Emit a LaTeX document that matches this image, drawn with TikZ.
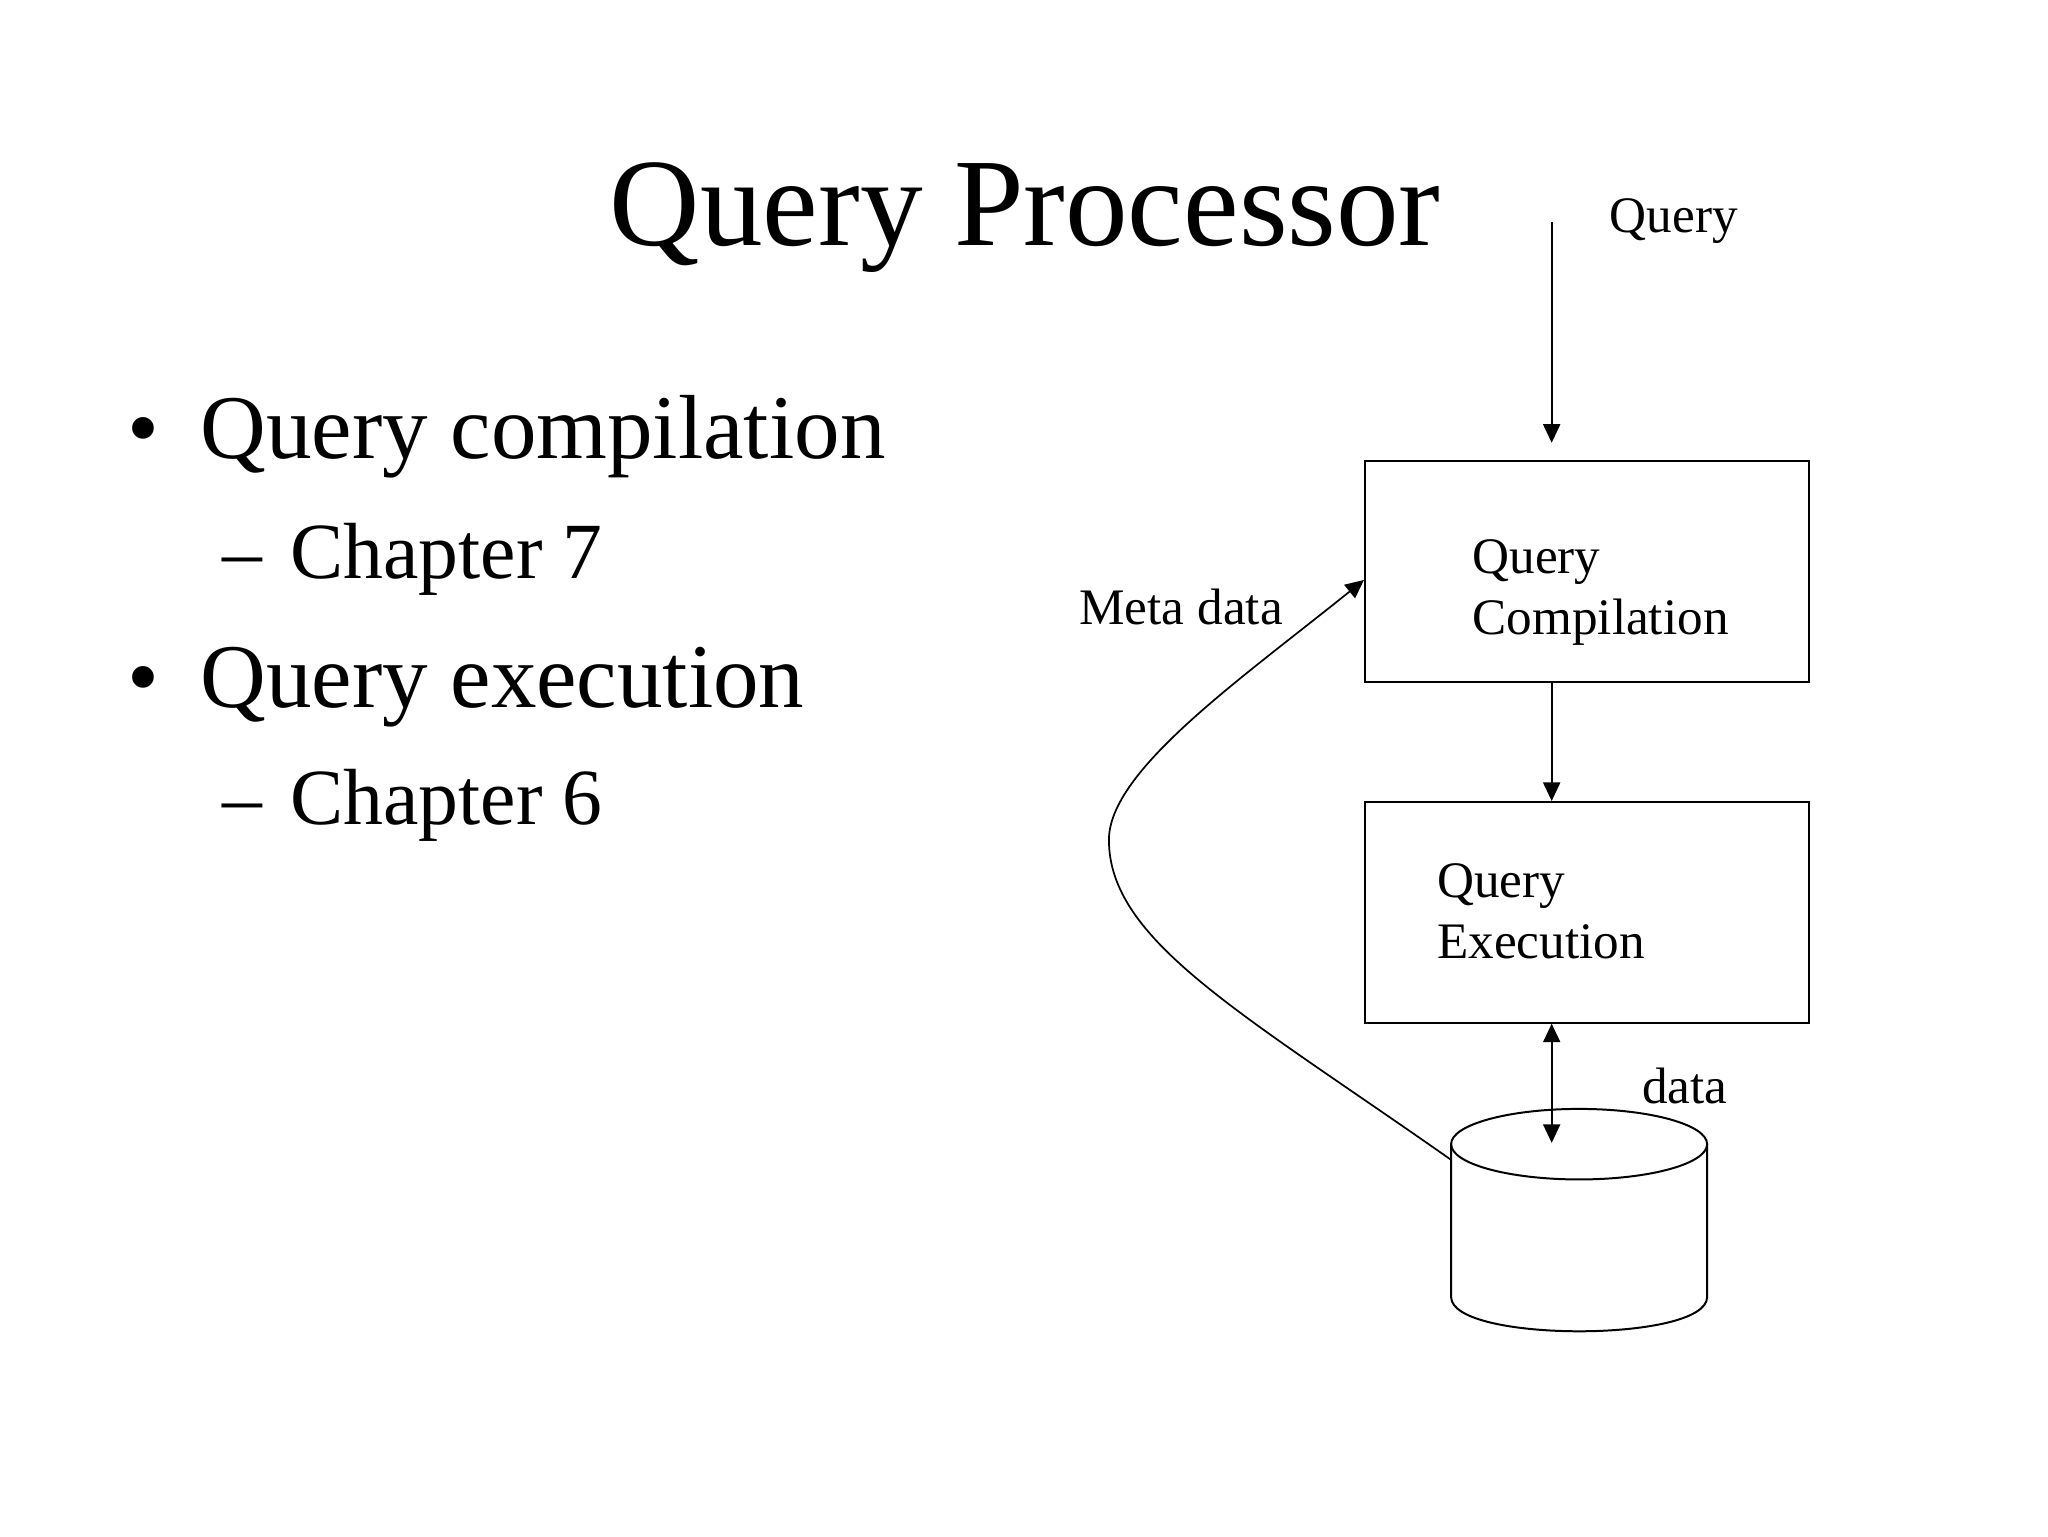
\documentclass[tikz,border=0pt]{standalone}
\usepackage{fontspec}
\setmainfont{Liberation Serif}
\usetikzlibrary{arrows.meta}
\begin{document}
\begin{tikzpicture}[x=0.4592pt,y=-0.4592pt,
  box/.style={draw, line width=0.7pt, minimum width=156.1pt, minimum height=77.6pt, inner sep=0pt},
  lbl/.style={anchor=base west, inner sep=0pt, font=\fontsize{18}{21}\selectfont},
  bul/.style={anchor=base west, inner sep=0pt, font=\fontsize{32}{38}\selectfont},
  sub/.style={anchor=base west, inner sep=0pt, font=\fontsize{28}{34}\selectfont},
  conn/.style={line width=0.6pt, -{Triangle[length=6.5pt,width=6pt]}},
  dconn/.style={line width=0.6pt, {Triangle[length=6.5pt,width=6pt]}-{Triangle[length=6.5pt,width=6pt]}},
  cyl/.style={line width=0.7pt}]
\fill[white] (0,0) rectangle (1568,1176);
\useasboundingbox (0,0) rectangle (1568,1176);

% title
\node[anchor=base, inner sep=0pt, font=\fontsize{44}{50}\selectfont] (title) at (785,188) {Query Processor};

% bullets
\node[bul] (b1) at (97,351) {\textbullet};
\node[bul] (t1) at (153,351) {Query compilation};
\node[sub] (d1) at (170,443) {–};
\node[sub] (s1) at (222,443) {Chapter 7};
\node[bul] (b2) at (97,542) {\textbullet};
\node[bul] (t2) at (153,542) {Query execution};
\node[sub] (d2) at (170,631) {–};
\node[sub] (s2) at (222,631) {Chapter 6};

% diagram
\coordinate (qin) at (1188,170);
\node[lbl] (ql) at (1232,178) {Query};
\node[box] (c1) at (1215,437.5) {};
\node[lbl] (c1a) at (1127,439) {Query};
\node[lbl] (c1b) at (1127,486) {Compilation};
\node[box] (e1) at (1215,698.5) {};
\node[lbl] (e1a) at (1100,687) {Query};
\node[lbl] (e1b) at (1100,734) {Execution};
\node[lbl] (md) at (826,478) {Meta data};
\node[lbl] (dl) at (1257,845) {data};

% database cylinder
\draw[cyl] (1111,876) -- (1111,993) .. controls (1111,1028) and (1307,1028) .. (1307,993) -- (1307,876);
\draw[cyl] (1209,876) ellipse [x radius=98, y radius=27];
\coordinate (dbleft) at (1111,888);
\coordinate (dbtop) at (1188,875);

% connectors
\draw[conn, shorten >=6.1pt] (qin) -- (qin |- c1.north);
\draw[conn] (c1.south -| qin) -- (e1.north -| qin);
\draw[dconn] (e1.south -| qin) -- (dbtop);
\draw[conn] (dbleft) .. controls (950,775) and (849,720) .. (849,643)
  .. controls (849,590) and (950,520) .. ([yshift=-3pt]c1.west);
\end{tikzpicture}
\end{document}
